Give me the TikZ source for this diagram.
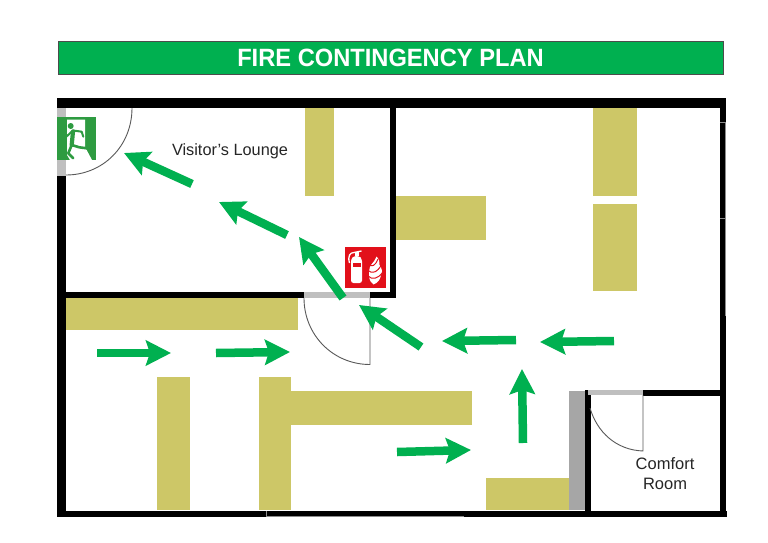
\documentclass[tikz,border=0pt]{standalone}
\usepackage{fontspec}
\usepackage{graphicx}
\setmainfont{Liberation Sans}
\usetikzlibrary{arrows.meta}
\definecolor{shelf}{HTML}{CDC767}
\definecolor{sign}{HTML}{00B050}
\definecolor{exitg}{HTML}{2E9B41}
\definecolor{firered}{HTML}{E2101A}
\tikzset{
 x=1pt,y=-1pt,
 wall/.style={fill=black,draw=none},
 shelfbox/.style={fill=shelf,draw=none},
 doorgap/.style={fill=black!25,draw=none},
 doorline/.style={draw=black!65,line width=0.9pt},
 route/.style={draw=sign,line width=8.5pt,-{Stealth[length=25pt,width=25pt,inset=4pt]}},
}
\begin{document}
\begin{tikzpicture}
\useasboundingbox (0,0) rectangle (768,543);
\fill[white] (0,0) rectangle (768,543);
% title
\node[name=title,draw=black!70,fill=sign,line width=0.8pt,minimum width=665pt,minimum height=33.5pt,inner sep=0pt,anchor=center,text=white,font=\fontsize{25}{25}\selectfont\bfseries] at (390.5,58) {\scalebox{0.947}[1]{FIRE CONTINGENCY PLAN}};
% shelves
\fill[shelfbox] (305,108) rectangle (334,196);
\fill[shelfbox] (593,108) rectangle (637,196);
\fill[shelfbox] (593,204) rectangle (637,291);
\fill[shelfbox] (395,196) rectangle (486,240);
\fill[shelfbox] (66,297) rectangle (298,330);
\fill[shelfbox] (157,377) rectangle (190,510);
\fill[shelfbox] (259,377) rectangle (291,510);
\fill[shelfbox] (291,391) rectangle (472,425);
\fill[shelfbox] (486,478) rectangle (569,510);
% grey column
\fill[black!35] (569,391) rectangle (585,510);
% walls
\fill[wall] (57,98) rectangle (726,107.5);
\fill[wall] (57,511) rectangle (266,517);
\fill[wall] (464,511) rectangle (727,517);
\fill[black!45] (266,510.5) rectangle (464,517);
\fill[wall] (266.5,511) rectangle (463.5,516);
\fill[wall] (57,98) rectangle (66,517);
\fill[wall] (719.5,98) rectangle (726,122);
\fill[wall] (719.5,316) rectangle (726,517);
\fill[black!45] (719.5,122) rectangle (726,316);
\fill[wall] (719.5,122.5) rectangle (725,217.5);
\fill[wall] (719.5,218.5) rectangle (725,315.5);
\fill[wall] (390,105) rectangle (396,298);
\fill[wall] (66,292) rectangle (304,298);
\fill[wall] (370,292) rectangle (396,298);
\fill[wall] (585,390) rectangle (591,512);
\fill[wall] (643,390) rectangle (722,395.5);
% door gaps
\fill[doorgap] (57,108) rectangle (66,176);
\fill[doorgap] (304,292) rectangle (370,298);
\fill[doorgap] (588,390) rectangle (643,395);
% door swings
\draw[doorline] (132,108) .. controls (132,146) and (103,175) .. (66,175);
\draw[doorline] (304,298) .. controls (304,335) and (333,364.5) .. (370,364.5) -- (370,298);
\draw[doorline] (590,408) .. controls (597,432) and (616,450) .. (643,451) -- (643,395);
% exit sign
\fill[exitg] (57,117) rectangle (96,160);
\fill[white] (67,119.5) -- (85,119.5) -- (85,147) -- (92,160) -- (70,160) -- (67,155) -- cycle;
\begin{scope}[exitg,line cap=round,line join=round]
\fill (70.7,126) circle (3);
\draw[line width=4.2pt] (73,131.5) -- (71.7,145);
\draw[line width=2pt] (73,130.5) -- (66,137);
\draw[line width=2pt] (73,130.5) -- (81.7,131.7) -- (83.3,136.7);
\draw[line width=2.6pt] (71.7,145) -- (79.3,147.3) -- (86.7,148.3);
\draw[line width=2.6pt] (71.7,145) -- (68.3,153.3) -- (73.3,158.3);
\end{scope}
% fire sign
\fill[firered] (344.5,247) rectangle (386,287.5);
\begin{scope}[white]
\fill[rounded corners=2.5pt] (351,283) -- (351,259) -- (354,256) -- (359,256) -- (362,259) -- (362,283) -- cycle;
\fill (354.5,256) rectangle (358.5,251.5);
\draw[line width=1.3pt] (349.5,263) .. controls (347.5,256) and (350,252.5) .. (354,252.5) -- (361.5,251);
\fill[firered] (352.5,263) rectangle (361,267);
\fill (376.5,256.5) .. controls (379,259) and (380,262) .. (379.5,265) .. controls (382,268) and (382.5,272) .. (381,275) .. controls (380.5,279) and (378,283) .. (373.5,284.5) .. controls (371,283) and (369.5,280) .. (369,276.5) .. controls (369,272) and (369,268) .. (371,265) .. controls (373,263) and (375,260) .. (376.5,256.5) -- cycle;
\draw[firered,line width=1pt] (368,270.5) .. controls (372,274) and (377,273) .. (382,264);
\draw[firered,line width=1pt] (368,276) .. controls (372,280) and (378,279) .. (383,272);
\draw[firered,line width=1pt] (369,264) .. controls (372,267.5) and (375,266) .. (378,259);
\end{scope}
% routes
\draw[route] (192,184) -- (124,153);
\draw[route] (287,235) -- (219,202);
\draw[route] (343,298) -- (299,237);
\draw[route] (421,347) -- (359,305);
\draw[route] (516,340) -- (442,341);
\draw[route] (614,341) -- (540,342);
\draw[route] (523,443) -- (522,369);
\draw[route] (397,452) -- (471,450);
\draw[route] (97,353) -- (171,353);
\draw[route] (216,353) -- (290,352);
% labels
\node[name=lounge,inner sep=0pt,font=\fontsize{16.3}{16.3}\selectfont,text=black!85] at (230,151.5) {Visitor’s Lounge};
\node[name=comfort,inner sep=0pt,align=center,font=\fontsize{16.5}{20}\selectfont,text=black!85] at (665,474) {Comfort\\Room};
\end{tikzpicture}
\end{document}
